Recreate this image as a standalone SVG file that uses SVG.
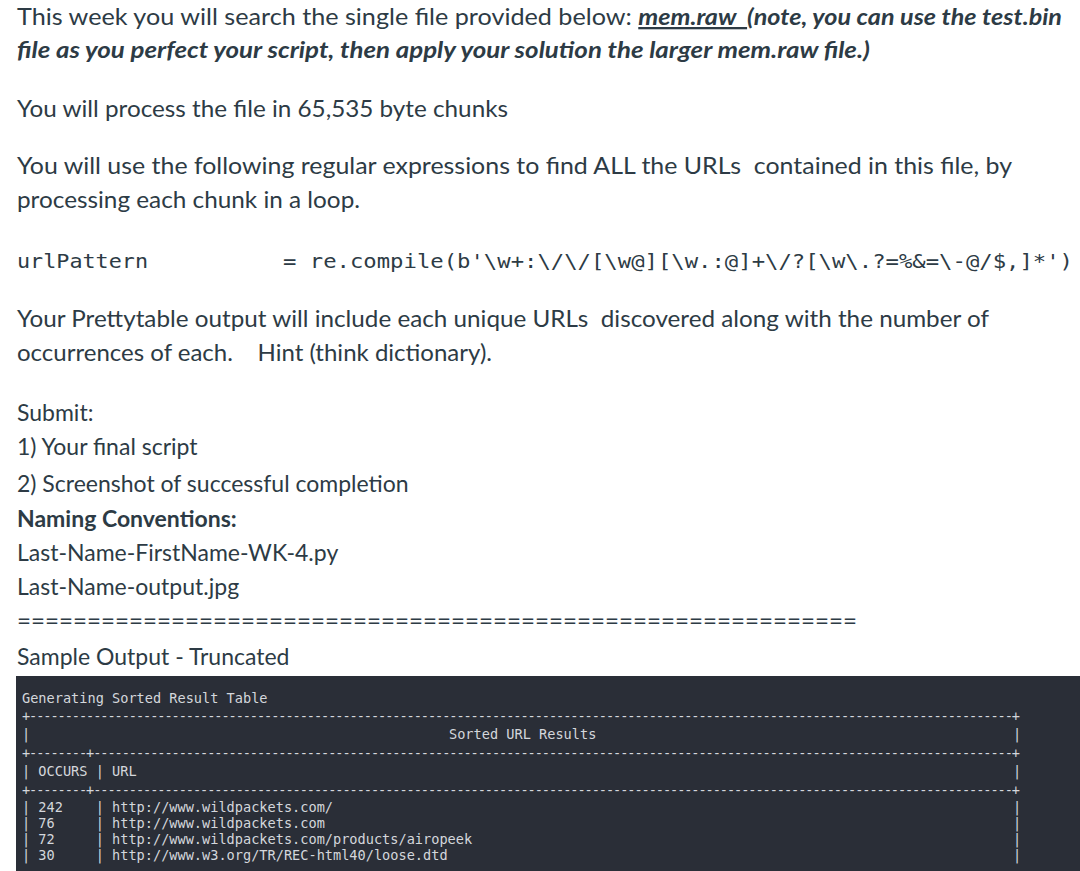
<svg xmlns="http://www.w3.org/2000/svg" width="1080" height="871" viewBox="0 0 1080 871">
<style>
.t{font-family:Lato,"Open Sans",sans-serif;font-size:23px;fill:#2d3b45;white-space:pre}
.bi{font-weight:bold;font-style:italic}
.m{font-family:"DejaVu Sans Mono","Liberation Mono",monospace;font-size:20px;fill:#2d3b45}
.c{font-family:"DejaVu Sans Mono","Liberation Mono",monospace;font-size:13.6px;fill:#d4d7dc;white-space:pre}
</style>
<rect width="1080" height="871" fill="#ffffff"/>
<text class="t" x="17" y="25" textLength="1045" lengthAdjust="spacingAndGlyphs">This week you will search the single file provided below: <tspan class="bi" text-decoration="underline">mem.raw  </tspan><tspan class="bi">(note, you can use the test.bin</tspan></text>
<text class="t bi" x="17" y="58" textLength="853" lengthAdjust="spacingAndGlyphs">file as you perfect your script, then apply your solution the larger mem.raw file.)</text>
<text class="t" x="17" y="117" textLength="491" lengthAdjust="spacingAndGlyphs">You will process the file in 65,535 byte chunks</text>
<text class="t" x="17" y="174" textLength="995" lengthAdjust="spacingAndGlyphs">You will use the following regular expressions to find ALL the URLs  contained in this file, by</text>
<text class="t" x="17" y="208" textLength="343" lengthAdjust="spacingAndGlyphs">processing each chunk in a loop.</text>
<text class="m" x="17" y="268" textLength="131" lengthAdjust="spacingAndGlyphs">urlPattern</text>
<text class="m" x="283" y="268" textLength="790" lengthAdjust="spacingAndGlyphs">= re.compile(b'\w+:\/\/[\w@][\w.:@]+\/?[\w\.?=%&amp;=\-@/$,]*')</text>
<text class="t" x="17" y="327" textLength="972" lengthAdjust="spacingAndGlyphs">Your Prettytable output will include each unique URLs  discovered along with the number of</text>
<text class="t" x="17" y="361" textLength="475" lengthAdjust="spacingAndGlyphs">occurrences of each.    Hint (think dictionary).</text>
<text class="t" x="17" y="421">Submit:</text>
<text class="t" x="17" y="455">1) Your final script</text>
<text class="t" x="17" y="492">2) Screenshot of successful completion</text>
<text class="t" x="17" y="527" font-weight="bold">Naming Conventions:</text>
<text class="t" x="17" y="561">Last-Name-FirstName-WK-4.py</text>
<text class="t" x="17" y="595">Last-Name-output.jpg</text>
<text class="t" x="17" y="629" textLength="840" lengthAdjust="spacingAndGlyphs">============================================================</text>
<text class="t" x="17" y="665">Sample Output - Truncated</text>
<g id="terminal">
<rect x="16" y="676" width="1064" height="195" fill="#2a2e37"/>
<text class="c" x="22" y="703">Generating Sorted Result Table</text>
<text class="c" x="22" y="721" textLength="998" lengthAdjust="spacing">+------------------------------------------------------------------------------------------------------------------------------------------+</text>
<text class="c" x="22" y="739">|</text><text class="c" x="449" y="739">Sorted URL Results</text><text class="c" x="1013" y="739">|</text>
<text class="c" x="22" y="758" textLength="998" lengthAdjust="spacing">+--------+---------------------------------------------------------------------------------------------------------------------------------+</text>
<text class="c" x="22" y="776">| OCCURS | URL</text><text class="c" x="1013" y="776">|</text>
<text class="c" x="22" y="795" textLength="998" lengthAdjust="spacing">+--------+---------------------------------------------------------------------------------------------------------------------------------+</text>
<text class="c" x="22" y="812">| 242    | http://www.wildpackets.com/</text><text class="c" x="1013" y="812">|</text>
<text class="c" x="22" y="828">| 76     | http://www.wildpackets.com</text><text class="c" x="1013" y="828">|</text>
<text class="c" x="22" y="844">| 72     | http://www.wildpackets.com/products/airopeek</text><text class="c" x="1013" y="844">|</text>
<text class="c" x="22" y="860">| 30     | http://www.w3.org/TR/REC-html40/loose.dtd</text><text class="c" x="1013" y="860">|</text>
</g>
</svg>
